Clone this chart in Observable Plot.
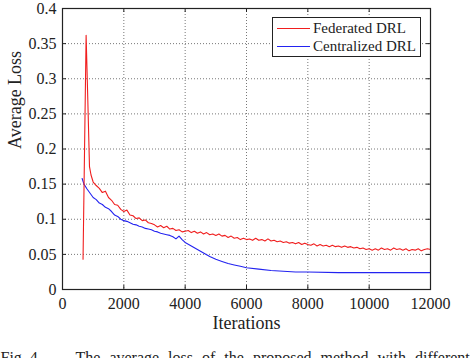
<!DOCTYPE html>
<html>
<head>
<meta charset="utf-8">
<script src="https://cdn.jsdelivr.net/npm/d3@7"></script>
<script src="https://cdn.jsdelivr.net/npm/@observablehq/plot@0.6"></script>
<style>
  html, body { margin: 0; padding: 0; background: white; overflow: hidden; }
  #wrap { position: relative; width: 474px; height: 358px; }
  #legend { position: absolute; left: 272px; top: 17px; width: 147px; height: 38px;
    border: 1px solid #222; background: white; font-family: "Liberation Serif", serif; font-size: 15px; color: #222; }
  #legend .row { position: absolute; left: 0; height: 19px; line-height: 19px; white-space: nowrap; }
  #legend .sw { position: absolute; left: 4px; top: 9px; width: 33px; height: 0; border-top: 1px solid; }
  #legend .lab { position: absolute; left: 40px; top: 0; }
</style>
</head>
<body>
<div id="wrap"></div>
<script>
const xTicks = [0, 2000, 4000, 6000, 8000, 10000, 12000];
const yTicks = [0, 0.05, 0.1, 0.15, 0.2, 0.25, 0.3, 0.35, 0.4];
const seriesNames = ["Federated DRL", "Centralized DRL"];
const seriesColors = ["#f01e1e", "#2323f0"];
const captionLabel = "Fig. 4.";
const captionText = "The average loss of the proposed method with different";

const fedX = [670, 770, 825, 880, 930,
  1000,1100,1200,1300,1400,1500,1600,1700,1800,1900,
  2000,2100,2200,2300,2400,2500,2600,2700,2800,2900,
  3000,3100,3200,3300,3400,3500,3600,3700,3800,3900,
  4000,4100,4200,4300,4400,4500,4600,4700,4800,4900,
  5000,5100,5200,5300,5400,5500,5600,5700,5800,5900,
  6000,6100,6200,6300,6400,6500,6600,6700,6800,6900,
  7000,7100,7200,7300,7400,7500,7600,7700,7800,7900,
  8000,8100,8200,8300,8400,8500,8600,8700,8800,8900,
  9000,9100,9200,9300,9400,9500,9600,9700,9800,9900,
  10000,10100,10200,10300,10400,10500,10600,10700,10800,10900,
  11000,11100,11200,11300,11400,11500,11600,11700,11800,11900,12000];
const fedY = [0.043, 0.362, 0.270, 0.175, 0.163,
  0.153,0.148,0.144,0.138,0.140,0.131,0.127,0.121,0.120,0.114,
  0.111,0.113,0.106,0.105,0.101,0.102,0.098,0.099,0.095,0.094,
  0.092,0.089,0.091,0.088,0.090,0.086,0.087,0.084,0.085,0.082,
  0.083,0.084,0.081,0.083,0.080,0.082,0.079,0.081,0.078,0.079,
  0.077,0.079,0.076,0.077,0.074,0.076,0.073,0.074,0.071,0.073,
  0.071,0.072,0.070,0.073,0.070,0.071,0.069,0.072,0.069,0.070,
  0.068,0.069,0.067,0.068,0.066,0.067,0.065,0.067,0.064,0.066,
  0.064,0.063,0.065,0.062,0.064,0.062,0.063,0.061,0.063,0.061,
  0.062,0.060,0.062,0.060,0.061,0.059,0.060,0.058,0.059,0.057,
  0.058,0.056,0.058,0.056,0.059,0.057,0.058,0.056,0.059,0.057,
  0.058,0.056,0.058,0.055,0.057,0.056,0.058,0.055,0.057,0.058,0.057];

const cenX = [640,700,800,900,1000,1100,1200,1300,1400,1500,1600,1700,1800,1900,
  2000,2100,2200,2300,2400,2500,2600,2700,2800,2900,3000,3100,3200,3300,3400,3500,
  3600,3700,3800,3900,4000,4200,4400,4600,4800,5000,5200,5400,5600,5800,6000,
  6400,6800,7200,7600,8000,9000,10000,11000,12000];
const cenY = [0.158,0.150,0.143,0.137,0.131,0.128,0.123,0.121,0.117,0.115,0.111,0.106,0.104,0.100,
  0.098,0.097,0.095,0.093,0.092,0.090,0.089,0.087,0.086,0.085,0.083,0.082,0.080,0.079,0.078,0.077,
  0.075,0.072,0.076,0.071,0.067,0.062,0.057,0.052,0.047,0.043,0.040,0.037,0.035,0.033,0.031,
  0.029,0.027,0.026,0.025,0.025,0.024,0.024,0.024,0.024];

const fed = fedX.map((x, i) => ({x, y: fedY[i]}));
const cen = cenX.map((x, i) => ({x, y: cenY[i]}));

const font = "Liberation Serif";
const chart = Plot.plot({
  width: 474,
  height: 358,
  marginLeft: 62,
  marginRight: 44,
  marginTop: 8,
  marginBottom: 69,
  style: {fontFamily: font, fontSize: "16px", color: "#222", background: "white"},
  x: {domain: [0, 12000]},
  y: {domain: [0, 0.4]},
  marks: [
    Plot.gridX(xTicks, {stroke: "#777", strokeOpacity: 1, strokeDasharray: "1,2"}),
    Plot.gridY(yTicks, {stroke: "#777", strokeOpacity: 1, strokeDasharray: "1,2"}),
    Plot.ruleX(xTicks, {x: d => d, insetTop: 277, stroke: "#222"}),
    Plot.ruleX(xTicks, {x: d => d, insetBottom: 277, stroke: "#222"}),
    Plot.ruleY(yTicks, {y: d => d, insetRight: 364, stroke: "#222"}),
    Plot.ruleY(yTicks, {y: d => d, insetLeft: 364, stroke: "#222"}),
    Plot.line(cen, {x: "x", y: "y", stroke: seriesColors[1], strokeWidth: 1.1}),
    Plot.line(fed, {x: "x", y: "y", stroke: seriesColors[0], strokeWidth: 1.1}),
    Plot.frame({stroke: "#222", strokeWidth: 1.2}),
    Plot.axisX(xTicks, {tickSize: 0, tickPadding: 8, tickFormat: d => String(d), fontSize: 16, label: null}),
    Plot.axisY(yTicks, {tickSize: 0, tickPadding: 6, tickFormat: d => String(d), fontSize: 16, label: null}),
    Plot.text(["Iterations"], {frameAnchor: "bottom", dy: 39, fontSize: 18, fill: "#222"}),
    Plot.text(["Average Loss"], {frameAnchor: "left", dx: -47, rotate: -90, fontSize: 18, fill: "#222"}),
    Plot.text([captionLabel], {frameAnchor: "bottom-left", dx: -62, dy: 62, textAnchor: "start", lineAnchor: "top", fontSize: 16, fill: "#222"}),
    Plot.text([captionText], {frameAnchor: "bottom-left", dx: 13, dy: 62, textAnchor: "start", lineAnchor: "top", fontSize: 16, fill: "#222"})
  ]
});
d3.select(chart).selectAll("text")
  .filter(function () { return this.textContent === captionText; })
  .style("word-spacing", "5px");

const wrap = document.getElementById("wrap");
wrap.appendChild(chart);

const legend = document.createElement("div");
legend.id = "legend";
seriesNames.forEach((name, i) => {
  const row = document.createElement("div");
  row.className = "row";
  row.style.top = (i * 18 + 1) + "px";
  row.style.width = "147px";
  const sw = document.createElement("span");
  sw.className = "sw";
  sw.style.borderTopColor = seriesColors[i];
  const lab = document.createElement("span");
  lab.className = "lab";
  lab.textContent = name;
  row.appendChild(sw);
  row.appendChild(lab);
  legend.appendChild(row);
});
wrap.appendChild(legend);
</script>
</body>
</html>
